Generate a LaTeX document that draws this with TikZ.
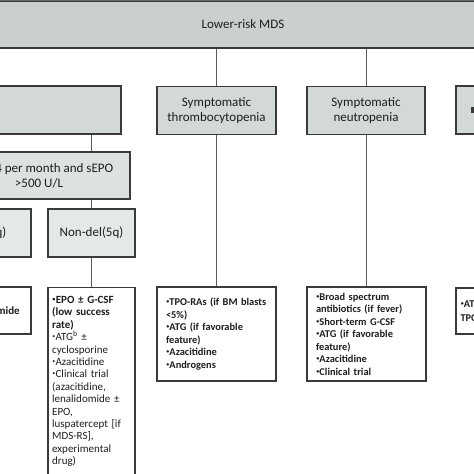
\documentclass[tikz,border=0pt]{standalone}
\usepackage{fontspec}
\setmainfont{Carlito}
\definecolor{barfill}{HTML}{C9D0CE}
\definecolor{hdrfill}{HTML}{D2D9D7}
\definecolor{critfill}{HTML}{DDE2E1}
\definecolor{subfill}{HTML}{E4E8E8}
\definecolor{edge}{HTML}{3A3A3A}
\definecolor{wire}{HTML}{5C5C5C}
\definecolor{ink}{HTML}{1E1E1E}
\newcommand\bul{\scalebox{1.25}{\textperiodcentered}}
\tikzset{
  box/.style={draw=edge, line width=1.1pt, rectangle, inner sep=0pt, align=center,
    text=ink, font=\fontsize{13}{15}\selectfont},
  hdr/.style={box, fill=hdrfill},
  txbox/.style={draw=edge, line width=1.1pt, fill=white, rectangle, align=left, text=ink,
    font=\bfseries\fontsize{10.4}{12.5}\selectfont, inner xsep=9pt, inner ysep=0pt},
  wirel/.style={draw=wire, line width=1pt},
}
\begin{document}
\begin{tikzpicture}[x=1pt,y=1pt]
\useasboundingbox (0,0) rectangle (474,-474);
\clip (0,0) rectangle (474,-474);
% top bar
\node[box, fill=barfill, minimum width=520pt, minimum height=47pt] (top) at (243,-24.5) {Lower-risk MDS};
\draw[edge!75, line width=2pt] (top.north west) -- (top.north east);
% header boxes
\node[hdr, minimum width=321pt, minimum height=48pt] (anem) at (-39.5,-110) {};
\node[hdr, minimum width=119pt, minimum height=48pt] (thr) at (216.5,-110.5) {Symptomatic\\thrombocytopenia};
\node[hdr, minimum width=118pt, minimum height=48pt] (neu) at (366,-110.5) {Symptomatic\\neutropenia};
\node[hdr, minimum width=104pt, minimum height=48pt] (rhd) at (508,-110) {};
\fill[edge] (471,-107) rectangle (475,-113);
% anemia branch
\node[box, fill=critfill, minimum width=182pt, minimum height=47pt] (crit) at (39,-175.5) {RBC ≥4 per month and sEPO\\>500 U/L};
\node[box, fill=subfill, minimum width=88pt, minimum height=48pt] (del) at (-13,-233) {Del(5q)};
\node[box, fill=subfill, minimum width=87pt, minimum height=48pt] (nondel) at (91.5,-233) {Non-del(5q)};
\node[box, fill=white, minimum width=88pt, minimum height=47pt, font=\bfseries\fontsize{11}{12.3}\selectfont] (len) at (-13,-310.5) {\bul Lenalidomide};
\node[txbox, minimum width=87pt, minimum height=220pt, anchor=north] (ndbox) at (91.5,-287) {};
\node[anchor=north west, inner sep=0pt, text width=82pt, align=left, text=ink,
  font=\fontsize{11}{12.4}\selectfont] (ndtext) at ([xshift=4.5pt,yshift=-9pt]ndbox.north west)
  {\textbf{\bul EPO ± G-CSF}\\\textbf{(low success}\\\textbf{rate)}\\
   \bul ATG\textsuperscript{b} ±\\cyclosporine\\\bul Azacitidine\\\bul Clinical trial\\
   (azacitidine,\\lenalidomide ±\\EPO,\\luspatercept [if\\MDS-RS],\\experimental\\drug)};
% treatment boxes
\node[txbox, text width=101pt, minimum height=94pt] (thrtx) at (216.5,-334)
  {\bul TPO-RAs (if BM blasts\\<5\%)\\\bul ATG (if favorable\\feature)\\\bul Azacitidine\\\bul Androgens};
\node[txbox, text width=101pt, minimum height=94pt] (neutx) at (366.5,-334)
  {\bul Broad spectrum\\antibiotics (if fever)\\\bul Short-term G-CSF\\\bul ATG (if favorable\\feature)\\\bul Azacitidine\\\bul Clinical trial};
\node[txbox, text width=95pt, inner xsep=4.5pt, minimum height=46pt,
  font=\bfseries\fontsize{10.4}{14}\selectfont] (rtx) at (508,-311)
  {\bul ATG ±\\TPO-RAs};
% connectors
\draw[wirel] (thr.north) -- (thr.north |- top.south);
\draw[wirel] (neu.north) -- (neu.north |- top.south);
\draw[wirel] (thr.south) -- (thrtx.north);
\draw[wirel] (neu.south) -- (neu.south |- neutx.north);
\draw[wirel] (nondel.north |- anem.south) -- (nondel.north |- crit.north);
\draw[wirel] (nondel.north |- crit.south) -- (nondel.north);
\draw[wirel] (nondel.south) -- (ndbox.north);
\end{tikzpicture}
\end{document}
